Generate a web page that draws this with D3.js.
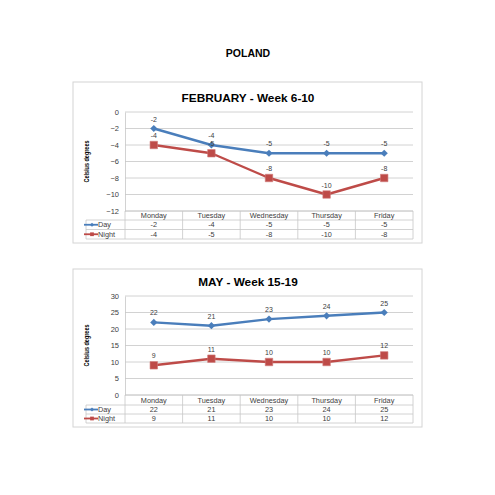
<!DOCTYPE html>
<html>
<head>
<meta charset="utf-8">
<title>Poland temperatures</title>
<script src="https://cdn.jsdelivr.net/npm/d3@7"></script>
<style>
body{ margin:0; background:#fff; }
text{ font-family:"Liberation Sans", Arial, sans-serif; }
</style>
</head>
<body>
<svg id="chart" width="495" height="495"></svg>
<script>

// data
var days = ["Monday", "Tuesday", "Wednesday", "Thursday", "Friday"];
var seriesNames = ["Day", "Night"];
var febDay = [-2, -4, -5, -5, -5];
var febNight = [-4, -5, -8, -10, -8];
var mayDay = [22, 21, 23, 24, 25];
var mayNight = [9, 11, 10, 10, 12];
var febTicks = [0, -2, -4, -6, -8, -10, -12];
var mayTicks = [0, 5, 10, 15, 20, 25, 30];

var colors = ["#4a7ebb", "#be4b48"];
var gridColor = "#c6c6c6";

var svg = d3.select("#chart");

svg.append("text")
	.attr("x", 248)
	.attr("y", 57)
	.attr("text-anchor", "middle")
	.style("font-size", "10.5px")
	.style("font-weight", "bold")
	.text("POLAND");

var boxLeft = 73, boxRight = 422;
var plotLeft = 125, plotRight = 413, tableLeft = 86;

function drawChart(opt){
	var g = svg.append("g");

	// outer frame
	g.append("rect")
		.attr("x", boxLeft).attr("y", opt.boxTop)
		.attr("width", boxRight - boxLeft).attr("height", opt.boxBottom - opt.boxTop)
		.attr("fill", "#fff").attr("stroke", "#d4d4d4").attr("stroke-width", 1);

	g.append("text")
		.attr("x", 248).attr("y", opt.titleY)
		.attr("text-anchor", "middle")
		.style("font-size", "11.8px")
		.style("font-weight", "bold")
		.attr("fill", "#000")
		.text(opt.title);

	var x = d3.scaleBand().domain(days).range([plotLeft, plotRight]);
	var y = d3.scaleLinear().domain(opt.domain).range([opt.plotBottom, opt.plotTop]);

	// gridlines
	g.selectAll(".grid").data(opt.ticks).enter()
		.append("line")
		.attr("x1", plotLeft).attr("x2", plotRight)
		.attr("y1", function(d){ return y(d); })
		.attr("y2", function(d){ return y(d); })
		.attr("stroke", gridColor).attr("stroke-width", 0.8);

	// y axis
	var yAxis = d3.axisLeft(y).tickValues(opt.ticks).tickSize(0).tickPadding(6);
	var ya = g.append("g")
		.attr("transform", "translate(" + plotLeft + ",0)")
		.call(yAxis);
	ya.select(".domain").attr("stroke", gridColor).attr("stroke-width", 0.8);
	ya.selectAll("text")
		.style("font-size", "7.5px")
		.style("font-family", "Liberation Sans, Arial, sans-serif")
		.attr("fill", "#404040");

	g.append("text")
		.attr("transform", "translate(89," + ((opt.plotTop + opt.plotBottom) / 2) + ") rotate(-90)")
		.attr("text-anchor", "middle")
		.style("font-size", "6.8px")
		.style("font-weight", "bold")
		.attr("textLength", 42)
		.attr("lengthAdjust", "spacingAndGlyphs")
		.text("Celsius degrees");

	// data table
	var r = opt.rows;
	var tbl = g.append("g").attr("stroke", gridColor).attr("stroke-width", 0.8);
	tbl.append("line").attr("x1", plotLeft).attr("x2", plotRight).attr("y1", opt.plotBottom).attr("y2", opt.plotBottom);
	r.forEach(function(ry){
		tbl.append("line").attr("x1", tableLeft).attr("x2", plotRight).attr("y1", ry).attr("y2", ry);
	});
	tbl.append("line").attr("x1", tableLeft).attr("x2", tableLeft).attr("y1", r[0]).attr("y2", r[2]);
	var edges = days.map(function(d){ return x(d); }).concat([plotRight]);
	edges.forEach(function(ex){
		tbl.append("line").attr("x1", ex).attr("x2", ex).attr("y1", opt.plotBottom).attr("y2", r[2]);
	});

	g.selectAll(".cat").data(days).enter()
		.append("text")
		.attr("x", function(d){ return x(d) + x.bandwidth() / 2; })
		.attr("y", (opt.plotBottom + r[0]) / 2 + 2.6)
		.attr("text-anchor", "middle")
		.style("font-size", "7.3px")
		.attr("fill", "#404040")
		.text(function(d){ return d; });

	var series = [opt.day, opt.night];

	series.forEach(function(vals, si){
		var ry = (r[si] + r[si + 1]) / 2;
		// legend key
		g.append("line")
			.attr("x1", tableLeft - 2).attr("x2", tableLeft + 12)
			.attr("y1", ry).attr("y2", ry)
			.attr("stroke", colors[si]).attr("stroke-width", 1.8);
		g.append("path")
			.attr("d", d3.symbol(d3.symbolSquare, si === 0 ? 9 : 14)())
			.attr("transform", "translate(" + (tableLeft + 6) + "," + ry + ")" + (si === 0 ? " rotate(45)" : ""))
			.attr("fill", colors[si]);
		g.append("text")
			.attr("x", tableLeft + 12).attr("y", ry + 2.6)
			.style("font-size", "7.3px")
			.attr("fill", "#404040")
			.text(seriesNames[si]);

		g.selectAll(".cell" + si).data(vals).enter()
			.append("text")
			.attr("x", function(d, i){ return x(days[i]) + x.bandwidth() / 2; })
			.attr("y", ry + 2.6)
			.attr("text-anchor", "middle")
			.style("font-size", "7.3px")
			.attr("fill", "#404040")
			.text(function(d){ return d; });
	});

	// lines and markers
	series.forEach(function(vals, si){
		var line = d3.line()
			.x(function(d, i){ return x(days[i]) + x.bandwidth() / 2; })
			.y(function(d){ return y(d); });
		g.append("path")
			.datum(vals)
			.attr("d", line)
			.attr("fill", "none")
			.attr("stroke", colors[si])
			.attr("stroke-width", 2.4)
			.attr("stroke-linejoin", "round");

		g.selectAll(".pt" + si).data(vals).enter()
			.append("path")
			.attr("d", d3.symbol(d3.symbolSquare, si === 0 ? 26 : 56)())
			.attr("transform", function(d, i){
				return "translate(" + (x(days[i]) + x.bandwidth() / 2) + "," + y(d) + ")" + (si === 0 ? " rotate(45)" : "");
			})
			.attr("fill", colors[si])
			.attr("stroke", si === 0 ? "none" : "#d07a78")
			.attr("stroke-width", 0.6);

		g.selectAll(".lbl" + si).data(vals).enter()
			.append("text")
			.attr("x", function(d, i){ return x(days[i]) + x.bandwidth() / 2; })
			.attr("y", function(d){ return y(d) - 7; })
			.attr("text-anchor", "middle")
			.style("font-size", "7px")
			.attr("fill", "#404040")
			.text(function(d){ return d; });
	});
}

drawChart({
	title: "FEBRUARY - Week 6-10",
	boxTop: 82, boxBottom: 243, titleY: 102,
	plotTop: 112, plotBottom: 211,
	rows: [220, 229.5, 239],
	domain: [-12, 0], ticks: febTicks,
	day: febDay, night: febNight
});

drawChart({
	title: "MAY - Week 15-19",
	boxTop: 269, boxBottom: 427, titleY: 286,
	plotTop: 296, plotBottom: 395,
	rows: [405, 414, 423],
	domain: [0, 30], ticks: mayTicks,
	day: mayDay, night: mayNight
});

</script>
</body>
</html>
